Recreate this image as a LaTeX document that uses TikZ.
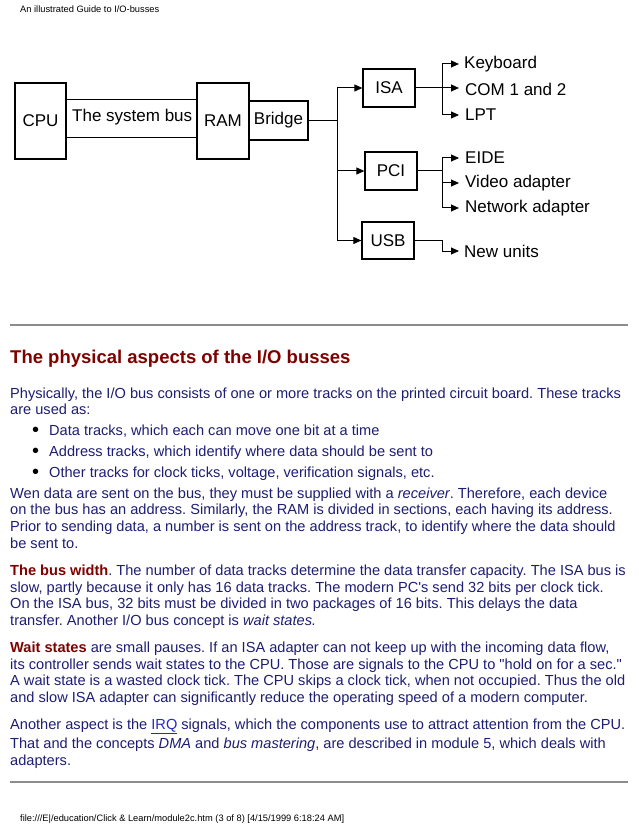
\documentclass[tikz,border=0pt]{standalone}
\usepackage{fontspec}
\setmainfont{Liberation Sans}
\usetikzlibrary{arrows.meta}
\definecolor{navy}{RGB}{30,30,115}
\definecolor{dred}{RGB}{128,0,0}
\definecolor{linkblue}{RGB}{40,40,200}
\definecolor{rulegray}{RGB}{140,140,140}
\frenchspacing
\begin{document}
\begin{tikzpicture}[x=1pt,y=-1pt,
  box/.style={draw,line width=1.3pt,inner sep=0pt,font=\fontsize{17}{19}\selectfont},
  lab/.style={anchor=west,inner sep=0pt,font=\fontsize{17}{19}\selectfont},
  conn/.style={line width=1pt},
  arr/.style={line width=1pt,-{Triangle[length=8pt,width=7pt]}},
  body/.style={anchor=base west,inner sep=0pt,text=navy,font=\fontsize{14.6}{17}\selectfont},
  small/.style={anchor=base west,inner sep=0pt,font=\fontsize{9.3}{11}\selectfont},
  bul/.style={anchor=base west,inner sep=0pt,text=black,font=\fontsize{20}{17}\selectfont},
  hrule/.style={draw=rulegray,line width=1.3pt}]
\useasboundingbox (0,0) rectangle (638,826);
\fill[white] (0,0) rectangle (638,826);
% header
\node[small] (hdr) at (20,13) {An illustrated Guide to I/O-busses};
% diagram
\node[box,minimum width=51pt,minimum height=76pt] (cpu) at (40.5,121) {CPU};
\node[box,minimum width=131pt,minimum height=38pt,anchor=north west] (bus) at (66,99) {};
\node[anchor=west,inner sep=0pt,font=\fontsize{17}{19}\selectfont] (bustxt) at (72,117) {The system bus};
\node[box,minimum width=52pt,minimum height=76pt] (ram) at (223,121) {RAM};
\node[box,minimum width=59pt,minimum height=39pt] (bridge) at (278.5,120.5) {Bridge};
\node[box,minimum width=52pt,minimum height=38pt] (isa) at (389,88) {ISA};
\node[box,minimum width=52pt,minimum height=38pt] (pci) at (391,171) {PCI};
\node[box,minimum width=52pt,minimum height=37pt] (usb) at (388,240.5) {USB};
\coordinate (j) at (337,120.5);
\coordinate (jt) at (337,88);
\coordinate (jm) at (337,171);
\coordinate (jb) at (337,240.5);
\draw[conn] (bridge.east) -- (j);
\draw[conn] (jt) -- (jb);
\draw[arr] (jt) -- (isa.west);
\draw[arr] (jm) -- (pci.west);
\draw[arr] (jb) -- (usb.west);
% ISA branch
\node[lab] (kb) at (464,64) {Keyboard};
\node[lab] (com) at (465,89) {COM 1 and 2};
\node[lab] (lpt) at (465,115) {LPT};
\coordinate (ia) at (442,88);
\coordinate (ib) at (442,64);
\coordinate (ic) at (442,115);
\draw[conn] (isa.east) -- (ia);
\draw[conn] (ib) -- (ic);
\draw[arr] (ib) -- ++(17,0);
\draw[arr] (ia) -- ++(17,0);
\draw[arr] (ic) -- ++(17,0);
% PCI branch
\node[lab] (eide) at (465,158) {EIDE};
\node[lab] (vid) at (465,183) {Video adapter};
\node[lab] (net) at (465,208) {Network adapter};
\coordinate (pa) at (442,171);
\coordinate (pb) at (442,158);
\coordinate (pc) at (442,208);
\coordinate (pd) at (442,183);
\draw[conn] (pci.east) -- (pa);
\draw[conn] (pb) -- (pc);
\draw[arr] (pb) -- ++(17,0);
\draw[arr] (pd) -- ++(17,0);
\draw[arr] (pc) -- ++(17,0);
% USB branch
\node[lab] (nu) at (464,251) {New units};
\coordinate (ua) at (442,240.5);
\coordinate (ub) at (442,251);
\draw[conn] (usb.east) -- (ua) -- (ub);
\draw[arr] (ub) -- ++(17,0);
% rules
\coordinate (r1a) at (10,325); \coordinate (r1b) at (628,325);
\draw[hrule] (r1a) -- (r1b);
\node[anchor=base west,inner sep=0pt,text=dred,font=\fontsize{18.5}{22}\selectfont\bfseries] (title) at (10,363) {The physical aspects of the I/O busses};
% body
\node[body] (l1) at (10,398) {Physically, the I/O bus consists of one or more tracks on the printed circuit board. These tracks};
\node[body] (l2) at (10,414) {are used as:};
\node[bul] (d1) at (32,436) {\textbullet}; \node[body] (b1) at (49,435) {Data tracks, which each can move one bit at a time};
\node[bul] (d2) at (32,457) {\textbullet}; \node[body] (b2) at (49,456) {Address tracks, which identify where data should be sent to};
\node[bul] (d3) at (32,478) {\textbullet}; \node[body] (b3) at (49,477) {Other tracks for clock ticks, voltage, verification signals, etc.};
\node[body] (w1) at (10,498) {Wen data are sent on the bus, they must be supplied with a \textit{receiver}. Therefore, each device};
\node[body] (w2) at (10,514) {on the bus has an address. Similarly, the RAM is divided in sections, each having its address.};
\node[body] (w3) at (10,531) {Prior to sending data, a number is sent on the address track, to identify where the data should};
\node[body] (w4) at (10,548) {be sent to.};
\node[body] (bw1) at (10,575) {\textcolor{dred}{\bfseries The bus width}. The number of data tracks determine the data transfer capacity. The ISA bus is};
\node[body] (bw2) at (10,592) {slow, partly because it only has 16 data tracks. The modern PC\textquotesingle s send 32 bits per clock tick.};
\node[body] (bw3) at (10,608) {On the ISA bus, 32 bits must be divided in two packages of 16 bits. This delays the data};
\node[body] (bw4) at (10,625) {transfer. Another I/O bus concept is \textit{wait states.}};
\node[body] (ws1) at (10,652) {\textcolor{dred}{\bfseries Wait states} are small pauses. If an ISA adapter can not keep up with the incoming data flow,};
\node[body] (ws2) at (10,669) {its controller sends wait states to the CPU. Those are signals to the CPU to \textquotedbl hold on for a sec.\textquotedbl};
\node[body] (ws3) at (10,685) {A wait state is a wasted clock tick. The CPU skips a clock tick, when not occupied. Thus the old};
\node[body] (ws4) at (10,702) {and slow ISA adapter can significantly reduce the operating speed of a modern computer.};
\node[body] (a1) at (10,729) {Another aspect is the \textcolor{linkblue}{\underline{IRQ}} signals, which the components use to attract attention from the CPU.};
\node[body] (a2) at (10,748) {That and the concepts \textit{DMA} and \textit{bus mastering}, are described in module 5, which deals with};
\node[body] (a3) at (10,765) {adapters.};
\coordinate (r2a) at (10,782); \coordinate (r2b) at (628,782);
\draw[hrule] (r2a) -- (r2b);
\node[small] (ftr) at (20,821) {file:///E|/education/Click \& Learn/module2c.htm (3 of 8) [4/15/1999 6:18:24 AM]};
\end{tikzpicture}
\end{document}
